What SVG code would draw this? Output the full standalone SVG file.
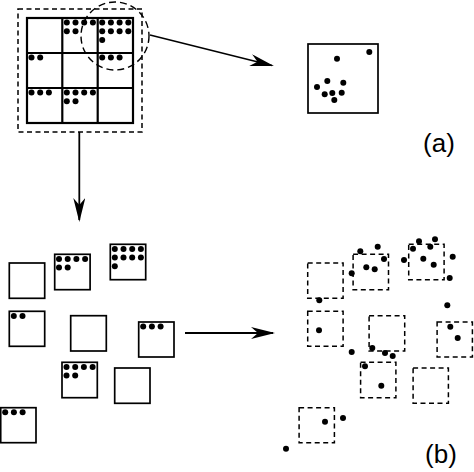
<svg xmlns="http://www.w3.org/2000/svg" width="474" height="472" viewBox="0 0 474 472">
<style>
.box{fill:none;stroke:#000;stroke-width:1.7}
.dbox{fill:none;stroke:#000;stroke-width:1.5;stroke-dasharray:5 3.5}
.grid{fill:none;stroke:#000;stroke-width:2.2}
.d circle{fill:#000}
.conn{stroke:#000;stroke-width:1.8;fill:none}
.lbl{font-family:"Liberation Sans",Arial,sans-serif;font-size:26px;fill:#000}
</style>
<defs>
<marker id="ah" viewBox="0 0 24 12" refX="22" refY="6" markerWidth="24" markerHeight="12" markerUnits="userSpaceOnUse" orient="auto">
<path d="M0,0 L24,6 L0,12 L7,6 Z" fill="#000"/>
</marker>
</defs>
<rect width="474" height="472" fill="#fff"/>

<g id="grid-node">
<rect class="dbox" x="18" y="9" width="124" height="123"/>
<rect class="grid" x="27" y="18" width="106" height="105"/>
<line class="grid" x1="62.3" y1="18" x2="62.3" y2="123"/>
<line class="grid" x1="97.7" y1="18" x2="97.7" y2="123"/>
<line class="grid" x1="27" y1="53" x2="133" y2="53"/>
<line class="grid" x1="27" y1="88" x2="133" y2="88"/>
<g class="d">
<circle cx="66.8" cy="22.6" r="3"/><circle cx="75.5" cy="22.6" r="3"/><circle cx="84.2" cy="22.6" r="3"/><circle cx="92.9" cy="22.6" r="3"/>
<circle cx="66.8" cy="31.2" r="3"/><circle cx="75.5" cy="31.2" r="3"/>
<circle cx="102.2" cy="22.6" r="3"/><circle cx="110.9" cy="22.6" r="3"/><circle cx="119.6" cy="22.6" r="3"/><circle cx="128.3" cy="22.6" r="3"/>
<circle cx="102.2" cy="31.2" r="3"/><circle cx="110.9" cy="31.2" r="3"/><circle cx="119.6" cy="31.2" r="3"/><circle cx="128.3" cy="31.2" r="3"/>
<circle cx="102.2" cy="39.9" r="3"/>
<circle cx="31.5" cy="57.6" r="3"/><circle cx="40.2" cy="57.6" r="3"/>
<circle cx="102.2" cy="57.6" r="3"/><circle cx="110.9" cy="57.6" r="3"/><circle cx="119.6" cy="57.6" r="3"/>
<circle cx="31.5" cy="92.6" r="3"/><circle cx="40.2" cy="92.6" r="3"/><circle cx="48.9" cy="92.6" r="3"/>
<circle cx="66.8" cy="92.6" r="3"/><circle cx="75.5" cy="92.6" r="3"/><circle cx="84.2" cy="92.6" r="3"/><circle cx="92.9" cy="92.6" r="3"/>
<circle cx="66.8" cy="101.2" r="3"/><circle cx="75.5" cy="101.2" r="3"/>
</g>
<circle cx="115" cy="36" r="34" fill="none" stroke="#000" stroke-width="1.4" stroke-dasharray="7 4"/>
</g>

<g id="zoom-node">
<rect class="box" x="308" y="44" width="70" height="69"/>
<g class="d">
<circle cx="369.3" cy="52" r="3"/><circle cx="337" cy="58.7" r="3"/><circle cx="327.3" cy="81" r="3"/><circle cx="343.3" cy="82.7" r="3"/>
<circle cx="317" cy="87" r="3"/><circle cx="324.7" cy="94.3" r="3"/><circle cx="332.3" cy="93" r="3"/><circle cx="341.7" cy="92.7" r="3"/><circle cx="334.3" cy="100" r="3"/>
</g>
</g>

<g id="split-node">
<rect class="box" x="9.3" y="263" width="35.4" height="35.3"/>
<rect class="box" x="54.7" y="254.3" width="35.4" height="35.4"/>
<rect class="box" x="110.3" y="244.3" width="35.4" height="35.4"/>
<rect class="box" x="9.3" y="311.3" width="35.4" height="35"/>
<rect class="box" x="70.7" y="315.7" width="35.6" height="35.3"/>
<rect class="box" x="138.7" y="322" width="35.3" height="35"/>
<rect class="box" x="62" y="362.3" width="35.3" height="35.4"/>
<rect class="box" x="114.7" y="368" width="35.3" height="35.3"/>
<rect class="box" x="0.7" y="407.7" width="35.3" height="35"/>
<g class="d">
<circle cx="59" cy="259" r="3"/><circle cx="67.7" cy="259" r="3"/><circle cx="76.4" cy="259" r="3"/><circle cx="85.1" cy="259" r="3"/>
<circle cx="59" cy="267.6" r="3"/><circle cx="67.7" cy="267.6" r="3"/>
<circle cx="114.8" cy="248.9" r="3"/><circle cx="123.5" cy="248.9" r="3"/><circle cx="132.2" cy="248.9" r="3"/><circle cx="140.9" cy="248.9" r="3"/>
<circle cx="114.8" cy="257.5" r="3"/><circle cx="123.5" cy="257.5" r="3"/><circle cx="132.2" cy="257.5" r="3"/><circle cx="140.9" cy="257.5" r="3"/>
<circle cx="114.8" cy="266.2" r="3"/>
<circle cx="13.8" cy="315.9" r="3"/><circle cx="22.5" cy="315.9" r="3"/>
<circle cx="143.2" cy="326.6" r="3"/><circle cx="151.9" cy="326.6" r="3"/><circle cx="160.6" cy="326.6" r="3"/>
<circle cx="66.5" cy="366.9" r="3"/><circle cx="75.2" cy="366.9" r="3"/><circle cx="83.9" cy="366.9" r="3"/><circle cx="92.6" cy="366.9" r="3"/>
<circle cx="66.5" cy="375.5" r="3"/><circle cx="75.2" cy="375.5" r="3"/>
<circle cx="5.2" cy="412.3" r="3"/><circle cx="13.9" cy="412.3" r="3"/><circle cx="22.6" cy="412.3" r="3"/>
</g>
</g>

<g id="scatter-node">
<rect class="dbox" x="307.7" y="263" width="35.4" height="35.3"/>
<rect class="dbox" x="353.1" y="254.3" width="35.4" height="35.4"/>
<rect class="dbox" x="408.7" y="244.3" width="35.4" height="35.4"/>
<rect class="dbox" x="307.7" y="311.3" width="35.4" height="35"/>
<rect class="dbox" x="369.1" y="315.7" width="35.6" height="35.3"/>
<rect class="dbox" x="437.1" y="322" width="35.3" height="35"/>
<rect class="dbox" x="360.6" y="362.3" width="35.3" height="35.4"/>
<rect class="dbox" x="413.1" y="368" width="35.3" height="35.3"/>
<rect class="dbox" x="299.1" y="407.7" width="35.3" height="35"/>
<g class="d">
<circle cx="360.3" cy="251.3" r="3"/><circle cx="377.7" cy="246.7" r="3"/><circle cx="384" cy="259" r="3"/>
<circle cx="366.3" cy="267.3" r="3"/><circle cx="374.7" cy="269.3" r="3"/><circle cx="351.7" cy="273.3" r="3"/>
<circle cx="419" cy="241.3" r="3"/><circle cx="435" cy="239.3" r="3"/><circle cx="413" cy="248.7" r="3"/><circle cx="430.3" cy="246.7" r="3"/>
<circle cx="404" cy="260" r="3"/><circle cx="423.3" cy="258.7" r="3"/><circle cx="433.7" cy="264.7" r="3"/>
<circle cx="452.7" cy="256.7" r="3"/><circle cx="449.7" cy="278" r="3"/>
<circle cx="319.3" cy="300.3" r="3"/><circle cx="447.3" cy="305.3" r="3"/><circle cx="319" cy="330.3" r="3"/>
<circle cx="450.3" cy="326.7" r="3"/><circle cx="457.7" cy="338" r="3"/>
<circle cx="351.7" cy="352" r="3"/><circle cx="372.3" cy="348" r="3"/><circle cx="385" cy="353" r="3"/><circle cx="392.7" cy="356" r="3"/>
<circle cx="365" cy="366.3" r="3"/><circle cx="381.3" cy="385.7" r="3"/>
<circle cx="325" cy="421.7" r="3"/><circle cx="343" cy="418" r="3"/><circle cx="286" cy="448.7" r="3"/>
</g>
</g>

<g id="connectors">
<line class="conn" x1="150" y1="35" x2="272" y2="65.5" marker-end="url(#ah)"/>
<line class="conn" x1="79.3" y1="132" x2="79.3" y2="220" marker-end="url(#ah)"/>
<line class="conn" x1="185" y1="333" x2="273" y2="333" marker-end="url(#ah)"/>
</g>

<g id="labels">
<text class="lbl" x="439" y="152" text-anchor="middle">(a)</text>
<text class="lbl" x="441" y="463" text-anchor="middle">(b)</text>
</g>
</svg>
